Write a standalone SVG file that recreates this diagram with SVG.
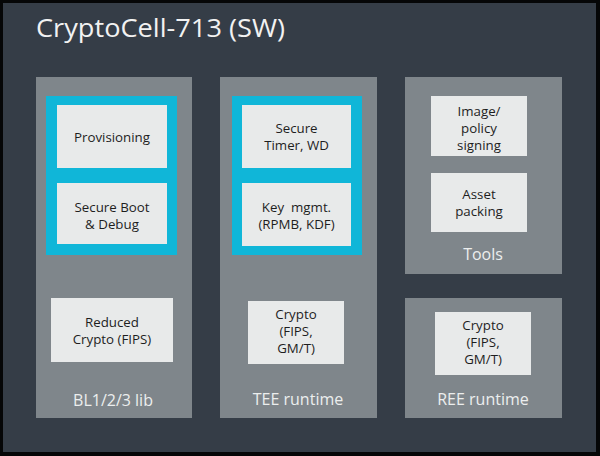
<svg xmlns="http://www.w3.org/2000/svg" width="600" height="456" viewBox="0 0 600 456">
<style>
.col{fill:#7f868b}
.sec{fill:#10b6d8}
.box{fill:#e8eaea}
.t{font-family:"Open Sans","Noto Sans",sans-serif;font-size:13.3px;fill:#1e1e1e;text-anchor:middle}
.lbl{font-family:"Open Sans","Noto Sans",sans-serif;font-size:16px;fill:#eceeee;text-anchor:middle}
</style>
<rect x="0" y="0" width="600" height="456" fill="#050607"/>
<rect x="3" y="3" width="593" height="449" fill="#353d47"/>
<text x="36" y="37" font-family="Open Sans, Noto Sans, sans-serif" font-size="26" fill="#f2f2f2" textLength="249" lengthAdjust="spacingAndGlyphs">CryptoCell-713 (SW)</text>

<g id="bl-lib">
<rect class="col" x="36" y="77" width="156" height="341"/>
<text class="lbl" x="113" y="406">BL1/2/3 lib</text>
</g>
<g id="bl-secure">
<rect class="sec" x="46" y="96" width="131" height="159"/>
</g>
<g id="provisioning">
<rect class="box" x="57" y="105" width="110" height="63"/>
<text class="t" x="112" y="142">Provisioning</text>
</g>
<g id="secure-boot">
<rect class="box" x="57" y="183" width="110" height="61"/>
<text class="t" x="112" y="212">Secure Boot</text>
<text class="t" x="112" y="229">&amp; Debug</text>
</g>
<g id="reduced-crypto">
<rect class="box" x="51" y="298" width="122" height="64"/>
<text class="t" x="112" y="327">Reduced</text>
<text class="t" x="112" y="344">Crypto (FIPS)</text>
</g>

<g id="tee-runtime">
<rect class="col" x="220" y="77" width="157" height="341"/>
<text class="lbl" x="298" y="405">TEE runtime</text>
</g>
<g id="tee-secure">
<rect class="sec" x="232" y="96" width="130" height="159"/>
</g>
<g id="secure-timer">
<rect class="box" x="242" y="105" width="109" height="63"/>
<text class="t" x="296.5" y="133">Secure</text>
<text class="t" x="296.5" y="150">Timer, WD</text>
</g>
<g id="key-mgmt">
<rect class="box" x="242" y="183" width="109" height="63"/>
<text class="t" x="296.5" y="212" xml:space="preserve">Key  mgmt.</text>
<text class="t" x="296.5" y="229">(RPMB, KDF)</text>
</g>
<g id="tee-crypto">
<rect class="box" x="248" y="301" width="96" height="63"/>
<text class="t" x="296" y="319">Crypto</text>
<text class="t" x="296" y="336">(FIPS,</text>
<text class="t" x="296" y="353">GM/T)</text>
</g>

<g id="tools">
<rect class="col" x="405" y="77" width="157" height="197"/>
<text class="lbl" x="483" y="260">Tools</text>
</g>
<g id="image-signing">
<rect class="box" x="431" y="96" width="96" height="60"/>
<text class="t" x="479" y="116">Image/</text>
<text class="t" x="479" y="133">policy</text>
<text class="t" x="479" y="150">signing</text>
</g>
<g id="asset-packing">
<rect class="box" x="431" y="173" width="96" height="59"/>
<text class="t" x="479" y="199">Asset</text>
<text class="t" x="479" y="216">packing</text>
</g>

<g id="ree-runtime">
<rect class="col" x="405" y="298" width="157" height="120"/>
<text class="lbl" x="483" y="405">REE runtime</text>
</g>
<g id="ree-crypto">
<rect class="box" x="435" y="312" width="96" height="63"/>
<text class="t" x="483" y="330">Crypto</text>
<text class="t" x="483" y="347">(FIPS,</text>
<text class="t" x="483" y="364">GM/T)</text>
</g>
<g id="connectors"/>
</svg>
